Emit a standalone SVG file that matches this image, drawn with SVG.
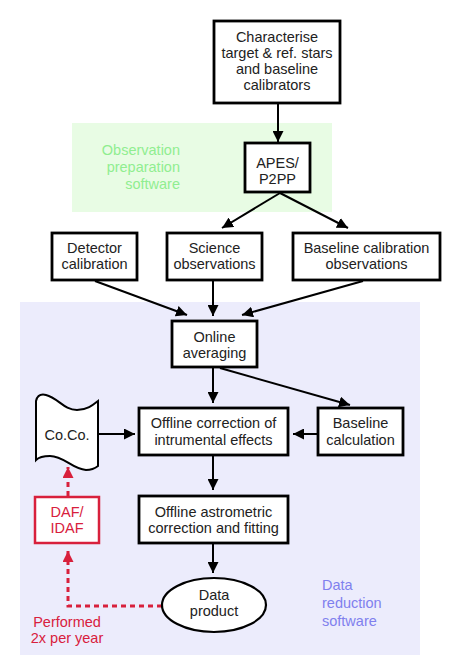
<svg xmlns="http://www.w3.org/2000/svg" width="474" height="663" viewBox="0 0 474 663">
<defs>
<marker id="ah" markerUnits="userSpaceOnUse" markerWidth="11" markerHeight="11" viewBox="0 0 10 10" refX="10" refY="5" orient="auto"><path d="M0,0 L10,5 L0,10 z" fill="#000"/></marker>
<marker id="ahr" markerUnits="userSpaceOnUse" markerWidth="11" markerHeight="11" viewBox="0 0 10 10" refX="10" refY="5" orient="auto"><path d="M0,0 L10,5 L0,10 z" fill="#d8203c"/></marker>
</defs>
<style>
text{font-family:"Liberation Sans",Arial,sans-serif;font-size:14.5px;fill:#222;text-anchor:middle}
.box{fill:#fff;stroke:#000;stroke-width:2.8}
.con{stroke:#000;stroke-width:2;fill:none;marker-end:url(#ah)}
.red{stroke:#d8203c;stroke-width:3;fill:none;stroke-dasharray:5 4;marker-end:url(#ahr)}
.rt{fill:#d8203c}
.gt{fill:#90ee90;text-anchor:end}
.bt{fill:#8080ee;text-anchor:start}
</style>
<rect x="72" y="123" width="260" height="89" fill="#e8fce4"/>
<rect x="20" y="302" width="400" height="353" fill="#ececfc"/>
<g id="label-obs">
<text class="gt" x="180" y="155">Observation</text>
<text class="gt" x="180" y="172">preparation</text>
<text class="gt" x="180" y="189">software</text>
</g>
<g id="label-red">
<text class="bt" x="322" y="590">Data</text>
<text class="bt" x="322" y="608">reduction</text>
<text class="bt" x="322" y="626">software</text>
</g>
<g id="connectors">
<line class="con" x1="278" y1="104" x2="278" y2="142"/>
<line class="con" x1="280" y1="193" x2="222" y2="228"/>
<line class="con" x1="280" y1="193" x2="348" y2="228"/>
<line class="con" x1="95" y1="281" x2="187" y2="315"/>
<line class="con" x1="213" y1="281" x2="213" y2="316"/>
<line class="con" x1="363" y1="281" x2="242" y2="315"/>
<line class="con" x1="213" y1="368" x2="213" y2="403"/>
<line class="con" x1="220" y1="368" x2="350" y2="405"/>
<line class="con" x1="318" y1="434" x2="293" y2="434"/>
<line class="con" x1="99" y1="434" x2="135" y2="434"/>
<line class="con" x1="213" y1="456" x2="213" y2="490"/>
<line class="con" x1="213" y1="544" x2="213" y2="573"/>
<path class="red" d="M162,606 H68 V551"/>
<path class="red" d="M68,496 V467"/>
</g>
<g id="characterise">
<rect class="box" x="214" y="21" width="126" height="82"/>
<text x="277" y="42">Characterise</text>
<text x="277" y="58">target &amp; ref. stars</text>
<text x="277" y="74">and baseline</text>
<text x="277" y="90">calibrators</text>
</g>
<g id="apes">
<rect class="box" x="245" y="143" width="65" height="49" stroke-width="3.5"/>
<text x="277.5" y="168">APES/</text>
<text x="277.5" y="184">P2PP</text>
</g>
<g id="detector">
<rect class="box" x="52" y="233" width="85" height="47"/>
<text x="94.5" y="253">Detector</text>
<text x="94.5" y="269">calibration</text>
</g>
<g id="science">
<rect class="box" x="167" y="233" width="95" height="47"/>
<text x="214.5" y="253">Science</text>
<text x="214.5" y="269">observations</text>
</g>
<g id="baselinecal">
<rect class="box" x="293" y="233" width="147" height="47"/>
<text x="366.5" y="253">Baseline calibration</text>
<text x="366.5" y="269">observations</text>
</g>
<g id="online">
<rect class="box" x="172" y="321" width="85" height="46"/>
<text x="214.5" y="342">Online</text>
<text x="214.5" y="358">averaging</text>
</g>
<g id="offline">
<rect class="box" x="139" y="408" width="149" height="47"/>
<text x="213.5" y="428">Offline correction of</text>
<text x="213.5" y="445">intrumental effects</text>
</g>
<g id="baselinecalc">
<rect class="box" x="318" y="408" width="85" height="47"/>
<text x="360.5" y="428">Baseline</text>
<text x="360.5" y="445">calculation</text>
</g>
<g id="coco">
<path d="M36,401 Q38,393 46,395 C58,398 64,410 77,410 C87,410 93,405 98,401 L98,466 Q93,470 86,470 C72,469 64,456 50,456 Q40,456 36,460 Z" fill="#fff" stroke="#000" stroke-width="2"/>
<text x="67" y="440">Co.Co.</text>
</g>
<g id="astrometric">
<rect class="box" x="139" y="496" width="149" height="47"/>
<text x="213.5" y="517">Offline astrometric</text>
<text x="213.5" y="533">correction and fitting</text>
</g>
<g id="dataproduct">
<ellipse cx="214" cy="605" rx="52" ry="27" fill="#fff" stroke="#000" stroke-width="2.2"/>
<text x="214" y="600">Data</text>
<text x="214" y="616">product</text>
</g>
<g id="daf">
<rect x="35" y="497" width="64" height="46" fill="#fff" stroke="#d8203c" stroke-width="2.5"/>
<text class="rt" x="67" y="517">DAF/</text>
<text class="rt" x="67" y="533">IDAF</text>
</g>
<g id="performed">
<text class="rt" x="67" y="627">Performed</text>
<text class="rt" x="67" y="643">2x per year</text>
</g>
</svg>
